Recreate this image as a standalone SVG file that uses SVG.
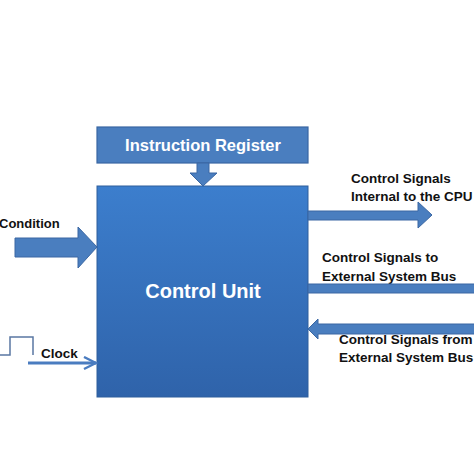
<svg xmlns="http://www.w3.org/2000/svg" width="474" height="474" viewBox="0 0 474 474">
<defs>
<linearGradient id="cuGrad" x1="0" y1="0" x2="0" y2="1">
<stop offset="0" stop-color="#3c7ecd"/>
<stop offset="1" stop-color="#2f63aa"/>
</linearGradient>
<marker id="openHead" viewBox="0 0 10 10" refX="9" refY="5" markerWidth="5" markerHeight="5" orient="auto" markerUnits="strokeWidth">
<path d="M1,1 L9,5 L1,9" fill="none" stroke="#4a7cc0" stroke-width="1.6"/>
</marker>
</defs>
<style>
.lbl{font-family:"Liberation Sans",Arial,sans-serif;font-weight:bold;fill:#111;}
.wlbl{font-family:"Liberation Sans",Arial,sans-serif;font-weight:bold;fill:#ffffff;}
.blk{fill:#4a7ebf;stroke:#3a67a3;stroke-width:1;}
</style>
<rect width="474" height="474" fill="#ffffff"/>

<g id="instruction-register">
<rect x="97" y="127" width="211" height="36" fill="#4a7ebf" stroke="#3a67a3" stroke-width="1.2"/>
<text class="wlbl" x="203" y="151" font-size="16.5" text-anchor="middle">Instruction Register</text>
</g>

<g id="control-unit">
<rect x="97" y="186" width="211" height="211" fill="url(#cuGrad)" stroke="#2f5f9c" stroke-width="1"/>
<text class="wlbl" x="203" y="298" font-size="20" text-anchor="middle">Control Unit</text>
</g>

<g id="condition">
<text class="lbl" x="-1" y="228" font-size="13">Condition</text>
</g>

<g id="clock">
<polyline points="0,355 10,355 10,337 33,337 33,355" fill="none" stroke="#5a77a3" stroke-width="1.5"/>
<text class="lbl" x="41" y="358" font-size="13.5">Clock</text>
</g>

<g id="internal-signals">
<text class="lbl" x="351" y="183" font-size="13.5">Control Signals</text>
<text class="lbl" x="351" y="201" font-size="13.5">Internal to the CPU</text>
</g>

<g id="external-to">
<text class="lbl" x="322" y="262" font-size="13.5">Control Signals to</text>
<text class="lbl" x="322" y="281" font-size="13.5">External System Bus</text>
</g>

<g id="external-from">
<text class="lbl" x="339" y="344" font-size="13.5">Control Signals from</text>
<text class="lbl" x="339" y="362" font-size="13.5">External System Bus</text>
</g>

<g id="connectors">
<path class="blk" d="M197,163 L209,163 L209,173 L217,173 L203,186 L190,173 L197,173 Z"/>
<path class="blk" d="M15,238 L78,238 L78,227 L97,247 L78,268 L78,257 L15,257 Z"/>
<line x1="28" y1="363" x2="96" y2="363" stroke="#4a7cc0" stroke-width="3" marker-end="url(#openHead)"/>
<path class="blk" d="M308,211 L418,211 L418,202 L432,215 L418,228 L418,220 L308,220 Z"/>
<rect class="blk" x="308" y="284" width="170" height="9"/>
<path class="blk" d="M478,324 L318,324 L318,319 L308,329 L318,339 L318,334 L478,334 Z"/>
</g>
</svg>
